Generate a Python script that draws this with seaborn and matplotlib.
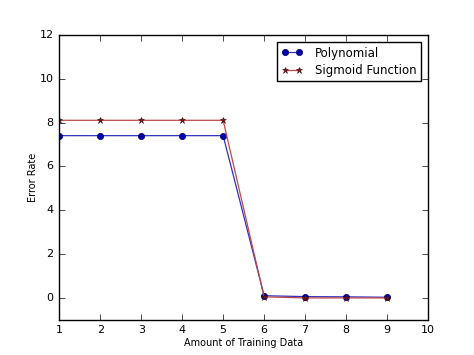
import matplotlib
matplotlib.use("Agg")
import matplotlib.pyplot as plt
import seaborn as sns
import pandas as pd

plt.style.use("classic")
plt.rcParams['font.family'] = ['DejaVu Sans']

training = [1, 2, 3, 4, 5, 6, 7, 8, 9]
poly_err = [7.4, 7.4, 7.4, 7.4, 7.4, 0.1, 0.06, 0.05, 0.03]
sigm_err = [8.1, 8.1, 8.1, 8.1, 8.1, 0.05, 0.0, 0.0, 0.0]

fig = plt.figure(figsize=(4.74, 3.55), dpi=100, facecolor="white")
ax = fig.add_axes([0.125, 0.099, 0.778, 0.803])

sns.lineplot(x=training, y=poly_err, ax=ax, color="#3030c0", marker="o", markersize=4.5,
             markerfacecolor="#0000b0", markeredgecolor="#000060", markeredgewidth=0.5,
             linewidth=0.9, label="Polynomial")
sns.lineplot(x=training, y=sigm_err, ax=ax, color="#c04848", marker="*", markersize=5,
             markerfacecolor="#801818", markeredgecolor="#400808", markeredgewidth=0.4,
             linewidth=0.9, label="Sigmoid Function")

ax.set_xlim(1, 10)
ax.set_ylim(-1, 12)
ax.set_xticks(range(1, 11))
ax.set_yticks(range(0, 13, 2))
ax.tick_params(labelsize=8)
ax.set_xlabel("Amount of Training Data", fontsize=7, labelpad=2)
ax.set_ylabel("Error Rate", fontsize=7, labelpad=1)

ax.legend(loc="upper right", numpoints=2, fontsize=8.5, frameon=True, fancybox=False,
          borderaxespad=0.6, handlelength=1.8, handletextpad=1.0, labelspacing=0.35)

fig.savefig("out.png", dpi=100, facecolor="white")
